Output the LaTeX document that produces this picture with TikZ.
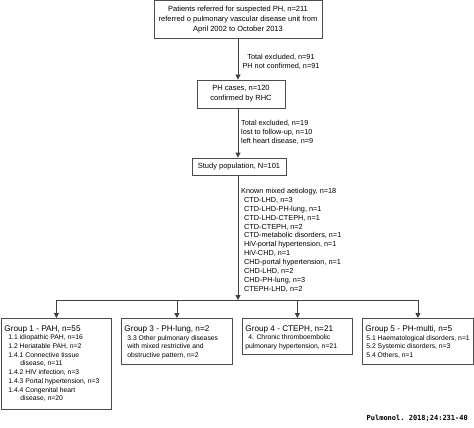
\documentclass[tikz,border=0pt]{standalone}
\usepackage{fontspec}
\setmainfont{Liberation Sans}
\setmonofont{DejaVu Sans Mono}
\usetikzlibrary{arrows.meta}

\tikzset{
  box/.style={draw=black!70, line width=0.8pt, align=center, inner sep=0pt,
    font=\fontsize{7.5}{9.7}\selectfont},
  note/.style={inner sep=0pt, font=\fontsize{7.3}{8.9}\selectfont},
  group/.style={draw=black!70, line width=0.8pt, anchor=north west,
    inner xsep=3pt, inner ysep=7pt, font=\fontsize{6.8}{8.7}\selectfont},
  flow/.style={draw=black!75, line width=0.8pt, -{Triangle[length=5pt,width=5pt]}},
  wire/.style={draw=black!75, line width=0.8pt}
}
\newcommand{\grouphead}[1]{{\fontsize{8.2}{9}\selectfont #1}}

\begin{document}
\begin{tikzpicture}[x=1pt,y=-1pt]
    \useasboundingbox (0,0) rectangle (474,428);
    % selection steps
    \node[box, minimum width=168, minimum height=38] (referred) at (238,19.5)
      {Patients referred for suspected PH, n=211\\referred o pulmonary vascular disease unit from\\April 2002 to October 2013};
    \node[note, anchor=north, align=center] (excluded1) at (281,54)
      {Total excluded, n=91\\PH not confirmed, n=91};
    \node[box, minimum width=88, minimum height=28] (cases) at (241,94)
      {PH cases, n=120\\confirmed by RHC};
    \node[note, anchor=north west, align=left] (excluded2) at (241,120)
      {Total excluded, n=19\\lost to follow-up, n=10\\left heart disease, n=9};
    \node[box, minimum width=94, minimum height=17] (study) at (239,166.5)
      {Study population, N=101};
    \node[note, anchor=north west, align=left] (mixed) at (241,188)
      {Known mixed aetiology, n=18\\
       \hspace*{3pt}CTD-LHD, n=3\\
       \hspace*{3pt}CTD-LHD-PH-lung, n=1\\
       \hspace*{3pt}CTD-LHD-CTEPH, n=1\\
       \hspace*{3pt}CTD-CTEPH, n=2\\
       \hspace*{3pt}CTD-metabolic disorders, n=1\\
       \hspace*{3pt}HiV-portal hypertension, n=1\\
       \hspace*{3pt}HiV-CHD, n=1\\
       \hspace*{3pt}CHD-portal hypertension, n=1\\
       \hspace*{3pt}CHD-LHD, n=2\\
       \hspace*{3pt}CHD-PH-lung, n=3\\
       \hspace*{3pt}CTEPH-LHD, n=2};
    % groups
    \node[group] (g1) at (1,318) {\parbox[c][77pt][t]{104pt}{\raggedright
      \grouphead{Group 1 - PAH, n=55}\\
      \hspace*{4pt}1.1 idiopathic PAH, n=16\\
      \hspace*{4pt}1.2 Heriatable PAH, n=2\\
      \hspace*{4pt}1.4.1 Connective tissue\\
      \hspace*{16pt}disease, n=11\\
      \hspace*{4pt}1.4.2 HIV infection, n=3\\
      \hspace*{4pt}1.4.3 Portal hypertension, n=3\\
      \hspace*{4pt}1.4.4 Congenital heart\\
      \hspace*{16pt}disease, n=20}};
    \node[group] (g3) at (121,318) {\parbox[c][32pt][t]{105pt}{\raggedright
      \grouphead{Group 3 - PH-lung, n=2}\\
      \hspace*{3pt}3.3 Other pulmonary diseases\\
      \hspace*{3pt}with mixed restrictive and\\
      \hspace*{3pt}obstructive pattern, n=2}};
    \node[group] (g4) at (242,318) {\parbox[c][22pt][t]{104pt}{\raggedright
      \grouphead{Group 4 - CTEPH, n=21}\\
      \hspace*{3pt}4. Chronic thromboembolic\\
      pulmonary hypertension, n=21}};
    \node[group] (g5) at (362,318) {\parbox[c][32pt][t]{105pt}{\raggedright
      \grouphead{Group 5 - PH-multi, n=5}\\
      \hspace*{1pt}5.1 Haematological disorders, n=1\\
      \hspace*{1pt}5.2 Systemic disorders, n=3\\
      \hspace*{1pt}5.4 Others, n=1}};
    \node[anchor=base east, inner sep=0pt] (source) at (468,420)
      {\fontsize{7}{8}\selectfont\ttfamily\bfseries Pulmonol. 2018;24:231-40};
    % connectors
    \coordinate (hub) at (238,300);
    \draw[flow] (referred.south) -- (cases.north -| referred.south);
    \draw[flow] (cases.south -| referred.south) -- (study.north -| referred.south);
    \draw[flow] (study.south -| hub) -- (hub);
    \draw[wire] (g1.north |- hub) -- (g5.north |- hub);
    \foreach \g in {g1,g3,g4,g5}
      \draw[flow] (\g.north |- hub) -- (\g.north);
\end{tikzpicture}
\end{document}
